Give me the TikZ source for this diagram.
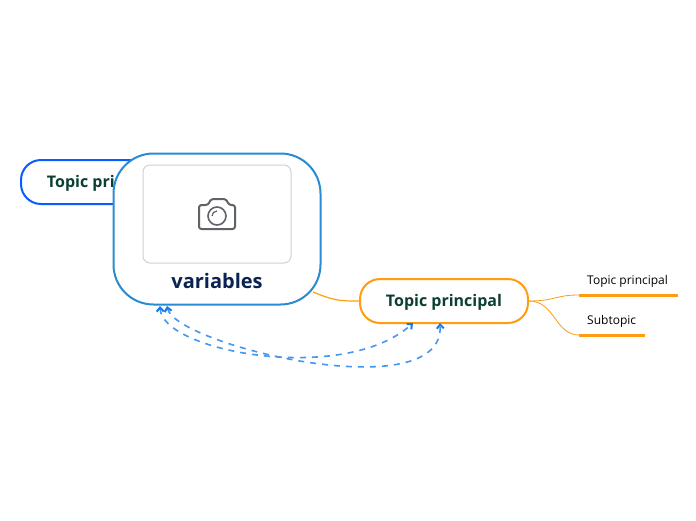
\documentclass[tikz,border=0pt]{standalone}
\usepackage{fontspec}
\setmainfont{Open Sans}
\usepackage{tikz}
\usetikzlibrary{arrows.meta,positioning}

\definecolor{topicgreen}{HTML}{0B3F33}
\definecolor{varnavy}{HTML}{0A2352}
\definecolor{linkorange}{HTML}{FF9C0F}
\definecolor{linkblue}{HTML}{4496EE}
\definecolor{tipblue}{HTML}{1579F0}
\definecolor{mainblue}{HTML}{2A8BD0}
\definecolor{leftblue}{HTML}{0B5CFF}
\definecolor{iconbase}{HTML}{5F6368}

\begin{document}
\begin{tikzpicture}[x=1pt,y=-1pt]
            \tikzset{topic/.style={rectangle,rounded corners=20pt,minimum width=168pt,minimum height=44pt,line width=2pt,fill=white,font=\fontsize{16}{18}\selectfont\bfseries,text=topicgreen,text height=12pt,text depth=2pt}}
            \tikzset{central/.style={rectangle,rounded corners=40pt,minimum width=207pt,minimum height=151pt,line width=2pt,draw=mainblue,fill=white}}
            \tikzset{photo/.style={rectangle,rounded corners=7pt,minimum width=148pt,minimum height=98pt,draw=black!18,line width=1pt,fill=white}}
            \tikzset{leaf/.style={anchor=west,inner sep=0pt,font=\fontsize{12}{14}\selectfont}}
            \tikzset{branch/.style={linkorange,line width=0.8pt}}
            \tikzset{mainbranch/.style={linkorange,line width=1.2pt}}
            \tikzset{underline/.style={linkorange,line width=3pt}}
            \tikzset{relation/.style={linkblue,line width=1.6pt,dash pattern=on 6pt off 6pt,{Straight Barb[length=4pt,width=7pt,color=tipblue,line width=2pt]}-{Straight Barb[length=4pt,width=7pt,color=tipblue,line width=2pt]}}}

            \useasboundingbox (0,0) rectangle (696,520);

            \coordinate (hookA) at (160,306);
            \coordinate (hookB) at (167,306);
            \coordinate (endA) at (413,323);
            \coordinate (endB) at (440,323);
            \coordinate (tail) at (313,292);
            \coordinate (lineA) at (579,295);
            \coordinate (lineAend) at (678,295);
            \coordinate (lineB) at (579,335);
            \coordinate (lineBend) at (645,335);

            \node[topic,draw=leftblue] (left) at (105,182) {Topic principal};
            \node[central] (main) at (217,229) {};
            \node[photo] (image) at (217,214) {};
            \node[font=\fontsize{20}{24}\selectfont\bfseries,text=varnavy] (title) at (217,281) {variables};
            \node[topic,draw=linkorange] (right) at (444,301) {Topic principal};

            % camera
            \draw[iconbase,line width=2pt,rounded corners=2.5pt] (199,229) -- (199,205) -- (208,205) -- (211,199) -- (226,199) -- (229,205) -- (235,205) -- (235,229) -- cycle;
            \draw[iconbase,line width=1.6pt] (217,216) circle (9pt);
            \draw[iconbase,line width=1.2pt] (212,216) arc (180:90:5pt);

            \draw[mainbranch] (tail) .. controls (335,301) and (340,301) .. (right.west);
            \draw[branch] (right.east) .. controls (555,301) and (555,295) .. (lineA);
            \draw[branch] (right.east) .. controls (555,301) and (555,335) .. (lineB);
            \draw[underline] (lineA) -- (lineAend);
            \draw[underline] (lineB) -- (lineBend);

            \node[leaf,above right=7pt and 8pt of lineA] (leafA) {Topic principal};
            \node[leaf,above right=7pt and 8pt of lineB] (leafB) {Subtopic};

            \draw[relation] (hookA) .. controls (162,352) and (345,385) .. (endA);
            \draw[relation] (hookB) .. controls (175,345) and (445,410) .. (endB);
        \end{tikzpicture}
\end{document}
